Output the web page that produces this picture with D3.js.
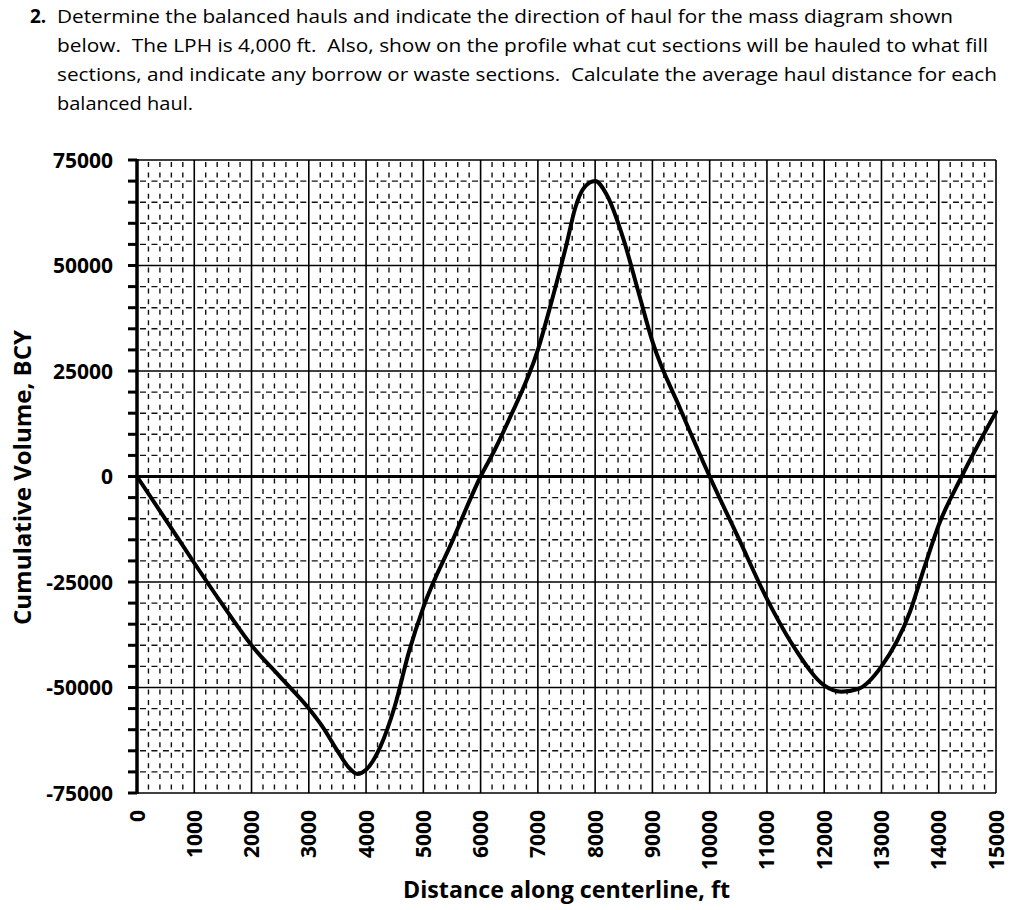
<!DOCTYPE html>
<html>
<head>
<meta charset="utf-8">
<script src="https://cdn.jsdelivr.net/npm/d3@7"></script>
<style>
  html, body { margin: 0; padding: 0; background: #fff; }
  svg { display: block; }
  .pre { white-space: pre; }
</style>
</head>
<body>
<svg id="chart" width="1024" height="910"></svg>
<script>
// ---- Data ----
const titleLines = [
  "Determine the balanced hauls and indicate the direction of haul for the mass diagram shown",
  "below.  The LPH is 4,000 ft.  Also, show on the profile what cut sections will be hauled to what fill",
  "sections, and indicate any borrow or waste sections.  Calculate the average haul distance for each",
  "balanced haul."
];
const distance = [0, 500, 1000, 1500, 2000, 2500, 3000, 3250, 3500, 3700, 3850, 4000, 4250, 4500, 4750, 5000, 5500, 6000,
  6250, 6500, 7000, 7250, 7500, 7650, 7800, 8000, 8200, 8500, 8750, 9000, 9500, 10000,
  10500, 11000, 11500, 12000, 12300, 12600, 13000, 13500, 13750, 14000, 14400, 15000];
const volume = [0, -10200, -20500, -30500, -40000, -47500, -55000, -59500, -65000, -69000, -70500, -69500, -64000, -54500, -41500, -31000, -15500, 0,
  6400, 13600, 30000, 42000, 55000, 63500, 68300, 70000, 66800, 56000, 44000, 32000, 15600, 0,
  -14500, -29000, -41000, -49500, -51000, -50300, -45000, -32000, -21500, -11500, 0, 15300];
const xTicks = d3.range(0, 15001, 1000);
const yTicks = [75000, 50000, 25000, 0, -25000, -50000, -75000];
const xLabel = "Distance along centerline, ft";
const yLabel = "Cumulative Volume, BCY";

// ---- Layout ----
const svg = d3.select("#chart");
const x = d3.scaleLinear().domain([0, 15000]).range([137, 996]);
const y = d3.scaleLinear().domain([-75000, 75000]).range([793, 160]);

// ---- Title ----
const titleWidths = [896, 931, 940, 136];
const titleBase = [23, 52, 81, 110];
svg.append("text").attr("x", 30).attr("y", titleBase[0])
  .attr("font-family", "'Open Sans', sans-serif").attr("font-weight", "bold")
  .attr("font-size", 19).attr("fill", "#000").text("2.");
titleLines.forEach((t, i) => {
  svg.append("text").attr("class", "pre").attr("x", 57).attr("y", titleBase[i])
    .attr("font-family", "'Open Sans', sans-serif")
    .attr("font-size", 19).attr("fill", "#000")
    .attr("textLength", titleWidths[i]).attr("lengthAdjust", "spacingAndGlyphs")
    .text(t);
});

// ---- Grid ----
const g = svg.append("g");
const minorX = d3.range(200, 15000, 200).filter(v => v % 1000 !== 0);
const minorY = d3.range(-70000, 75000, 5000).filter(v => v % 25000 !== 0);
g.selectAll(".mx").data(minorX).join("line")
  .attr("x1", d => x(d)).attr("x2", d => x(d))
  .attr("y1", y(75000)).attr("y2", y(-75000))
  .attr("stroke", "#111").attr("stroke-width", 1.4)
  .attr("stroke-dasharray", "5,5.55").attr("stroke-dashoffset", -2);
g.selectAll(".my").data(minorY).join("line")
  .attr("x1", x(0)).attr("x2", x(15000))
  .attr("y1", d => y(d)).attr("y2", d => y(d))
  .attr("stroke", "#111").attr("stroke-width", 1.4)
  .attr("stroke-dasharray", "6,5.45").attr("stroke-dashoffset", -3);
g.selectAll(".MX").data(xTicks.filter(v => v > 0)).join("line")
  .attr("x1", d => x(d)).attr("x2", d => x(d))
  .attr("y1", y(75000)).attr("y2", y(-75000))
  .attr("stroke", "#000").attr("stroke-width", 1.6);
g.selectAll(".MY").data(yTicks.filter(v => v !== 0)).join("line")
  .attr("x1", x(0)).attr("x2", x(15000))
  .attr("y1", d => y(d)).attr("y2", d => y(d))
  .attr("stroke", "#000").attr("stroke-width", 1.6);
// zero line
g.append("line").attr("x1", x(0)).attr("x2", x(15000))
  .attr("y1", y(0)).attr("y2", y(0))
  .attr("stroke", "#000").attr("stroke-width", 3);

// ---- Y axis ----
const ya = svg.append("g");
ya.append("line").attr("x1", x(0)).attr("x2", x(0))
  .attr("y1", y(75000) - 1).attr("y2", y(-75000) + 1)
  .attr("stroke", "#000").attr("stroke-width", 3.5);
ya.selectAll(".yt").data(d3.range(-75000, 75001, 5000)).join("line")
  .attr("x1", x(0) - 9).attr("x2", x(0))
  .attr("y1", d => y(d)).attr("y2", d => y(d))
  .attr("stroke", "#000").attr("stroke-width", 3);
ya.selectAll(".yl").data(yTicks).join("text")
  .attr("x", 113).attr("y", d => y(d)).attr("dy", "0.36em")
  .attr("text-anchor", "end")
  .attr("font-family", "'Open Sans', sans-serif").attr("font-weight", "bold")
  .attr("font-size", 21).attr("fill", "#000")
  .text(d => d);

// ---- X tick labels ----
svg.selectAll(".xl").data(xTicks).join("text")
  .attr("transform", d => `translate(${x(d)},810) rotate(-90)`)
  .attr("dy", "0.36em")
  .attr("text-anchor", "end")
  .attr("font-family", "'Open Sans', sans-serif").attr("font-weight", "bold")
  .attr("font-size", 21).attr("fill", "#000")
  .text(d => d);

// ---- Axis titles ----
svg.append("text")
  .attr("x", 403).attr("y", 898)
  .attr("font-family", "'Open Sans', sans-serif").attr("font-weight", "bold")
  .attr("font-size", 24).attr("fill", "#000")
  .attr("textLength", 327).attr("lengthAdjust", "spacingAndGlyphs")
  .text(xLabel);
svg.append("text")
  .attr("transform", "translate(31,625) rotate(-90)")
  .attr("font-family", "'Open Sans', sans-serif").attr("font-weight", "bold")
  .attr("font-size", 24).attr("fill", "#000")
  .attr("textLength", 295).attr("lengthAdjust", "spacingAndGlyphs")
  .text(yLabel);

// ---- Curve ----
const pts = distance.map((d, i) => [d, volume[i]]);
const line = d3.line().x(d => x(d[0])).y(d => y(d[1])).curve(d3.curveMonotoneX);
svg.append("path").datum(pts)
  .attr("d", line)
  .attr("fill", "none").attr("stroke", "#000")
  .attr("stroke-width", 4).attr("stroke-linejoin", "round").attr("stroke-linecap", "round");
</script>
</body>
</html>
